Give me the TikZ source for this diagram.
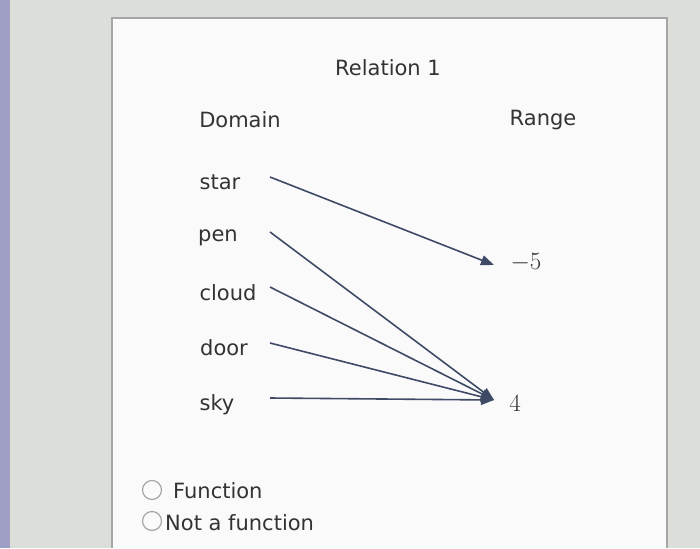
\documentclass[tikz,border=0pt]{standalone}
\usepackage{fontspec}
\setmainfont{DejaVu Sans}
\usetikzlibrary{arrows.meta}
\definecolor{bg}{HTML}{DCDEDA}
\definecolor{arr}{HTML}{3E4A66}
\begin{document}
\begin{tikzpicture}[x=1pt,y=-1pt,
  lbl/.style={font=\fontsize{21}{24}\selectfont,text=black!80,inner sep=0},
  mlbl/.style={font=\fontsize{25}{28}\selectfont,text=black!80,inner sep=0},
  con/.style={draw=arr,line width=1.6pt,-{Triangle[length=13pt,width=10pt]}},
  radio/.style={circle,draw=gray!70,line width=1.2pt,minimum size=19pt,inner sep=0}]
\useasboundingbox (0,0) rectangle (700,548);
\fill[bg] (0,0) rectangle (700,548);
\fill[blue!25!gray!60] (0,0) rectangle (10,548);
\fill[white!96!gray] (112,18) rectangle (667,548);
\draw[gray!70,line width=1.2pt] (112,548) -- (112,18) -- (667,18) -- (667,548);
\node[lbl] (title) at (388,68) {Relation 1};
\node[lbl] (dom) at (240,120) {Domain};
\node[lbl] (rng) at (543,120) {Range};
\node[lbl] (star) at (220,182) {star};
\node[lbl] (pen) at (218,238) {pen};
\node[lbl] (cloud) at (228,293) {cloud};
\node[lbl] (door) at (224,348) {door};
\node[lbl] (sky) at (217,405) {sky};
\coordinate (s1) at (270,177);
\coordinate (s2) at (270,232);
\coordinate (s3) at (270,287);
\coordinate (s4) at (270,343);
\coordinate (s5) at (270,398);
\coordinate (tm5) at (494,265);
\coordinate (t4) at (494,400);
\node[mlbl] (m5) at (526,263) {$-5$};
\node[mlbl] (four) at (515,403) {$4$};
\draw[con] (s1) -- (tm5);
\draw[con] (s2) -- (t4);
\draw[con] (s3) -- (t4);
\draw[con] (s4) -- (t4);
\draw[con] (s5) -- (t4);
\node[radio] (r1) at (152,490) {};
\node[radio] (r2) at (152,521) {};
\node[lbl,anchor=west] (f) at (173,491) {Function};
\node[lbl,anchor=west] (nf) at (165,523) {Not a function};
\end{tikzpicture}
\end{document}
